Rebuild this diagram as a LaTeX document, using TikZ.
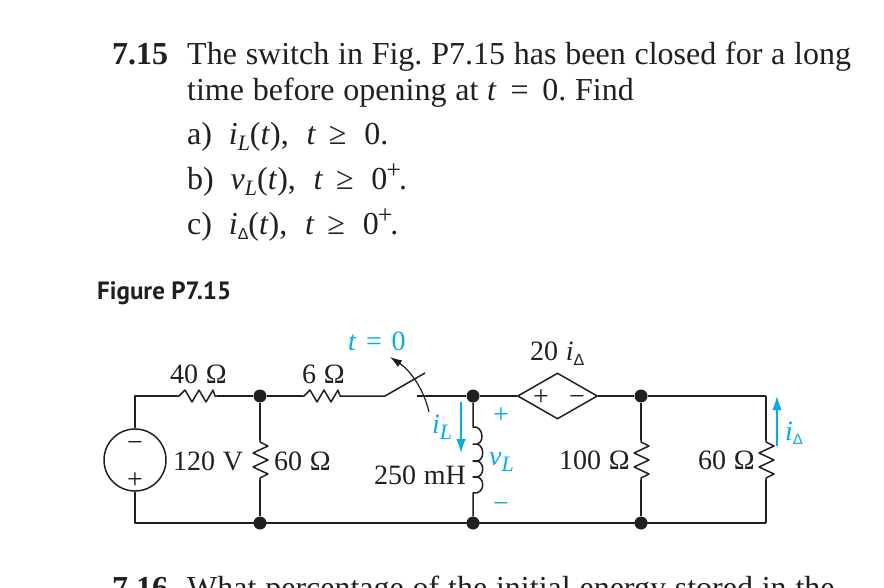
\documentclass[tikz,border=0pt]{standalone}
\usepackage{fontspec}
\setmainfont[WordSpace=1.1]{Liberation Serif}
\newfontfamily\figfont{PT Sans}
\newfontfamily\gfont{Liberation Sans}
\usetikzlibrary{arrows.meta,shapes.geometric}
\definecolor{ink}{HTML}{231F20}
\definecolor{cy}{HTML}{00AEEF}
\newcommand{\dls}{{\gfont\fontsize{16}{16}\selectfont\raisebox{-5pt}{Δ}}}
\newcommand{\subL}[1]{\raisebox{-6pt}{\fontsize{22}{22}\selectfont\itshape #1}}
\newcommand{\supP}{\raisebox{11pt}{\fontsize{26}{26}\selectfont\kern-1pt+\kern-2pt}}
\newcommand{\gp}[1]{\hspace{#1pt}}
\tikzset{
 x=1pt,y=-1pt,
 wire/.style={line width=1.5pt,draw=ink,line join=round},
 dot/.style={circle,fill=ink,inner sep=0pt,minimum size=13pt},
 txt/.style={anchor=base west,inner sep=0pt,text=ink,font=\fontsize{32}{32}\selectfont\frenchspacing},
 boldtxt/.style={txt,font=\fontsize{32}{32}\selectfont\bfseries},
 lab/.style={anchor=base west,inner sep=0pt,text=ink,font=\fontsize{28}{28}\selectfont},
 blab/.style={lab,text=cy},
 sign/.style={anchor=base,inner sep=0pt,text=ink,font=\fontsize{28}{28}\selectfont},
 arr/.style={-{Latex[length=14pt,width=9.5pt]},line width=1.3pt,draw=cy},
}
\newcommand{\hres}[2]{\draw[wire] (#1) -- ++(2,0) -- ++(6,-6) -- ++(7,12) -- ++(7,-12) -- ++(7,12) -- ++(7,-12) -- ++(2,6) -- ++(2,0) -- (#2);}
\newcommand{\vres}[2]{\draw[wire] (#1) -- ++(0,2) -- ++(8,4) -- ++(-15,7) -- ++(15,7) -- ++(-15,7) -- ++(15,7) -- ++(-8,4) -- (#2);}
\begin{document}
\begin{tikzpicture}
\useasboundingbox (0,0) rectangle (884,588);
\clip (0,0) rectangle (884,588);
\fill[white] (0,0) rectangle (884,588);
% text
\node[boldtxt] (n1) at (112,65) {7.15};
\node[txt] (t1) at (187,65) {The switch in Fig. P7.15 has been closed for a long};
\node[txt] (t2) at (187,101) {time before opening at \textit{t}\gp{5} = \gp{5}0. Find};
\node[txt] (a) at (187,145) {a)\gp{8} \textit{i}\subL{L}(\textit{t}),\gp{9} \textit{t}\gp{4} ≥\gp{9} 0.};
\node[txt] (b) at (187,190) {b)\gp{8} \textit{v}\subL{L}(\textit{t}),\gp{9} \textit{t}\gp{4} ≥\gp{9} 0\supP.};
\node[txt] (c) at (187,235) {c)\gp{8} \textit{i}\dls(\textit{t}),\gp{9} \textit{t}\gp{4} ≥\gp{9} 0\supP.};
\node[anchor=base west,inner sep=0pt,text=ink] (fig) at (97,300) {\figfont\bfseries\fontsize{25}{25}\selectfont Figure P7.15};
\node[boldtxt] (n2) at (112,598) {7.16};
\node[txt] (t3) at (187,598) {What percentage of the initial energy stored in the};
% circuit points
\coordinate (tl) at (135,396); \coordinate (bl) at (135,523);
\node[dot] (j1) at (260,396) {}; \node[dot] (j2) at (473,396) {}; \node[dot] (j3) at (641,396) {};
\node[dot] (b1) at (260,523) {}; \node[dot] (b2) at (473,523) {}; \node[dot] (b3) at (641,523) {};
\coordinate (tr) at (766,396); \coordinate (br) at (766,523);
\node[circle,draw=ink,line width=1.5pt,minimum size=62pt,inner sep=0pt] (src) at (135,460) {};
\node[diamond,draw=ink,line width=1.5pt,minimum width=80pt,minimum height=46pt,inner sep=0pt,aspect=1.72] (dep) at (557.5,396) {};
\node[sign] (dp) at (541,405) {+}; \node[sign] (dm) at (577,405) {−};
\node[sign] (sm) at (135,451) {−}; \node[sign] (sp) at (135,488) {+};
% wires
\draw[wire] (src.north) -- (tl) -- (177,396) coordinate (r1a);
\coordinate (r1b) at (217,396); \hres{r1a}{r1b}
\draw[wire] (r1b) -- (j1);
\coordinate (r2a) at (302,396); \coordinate (r2b) at (343,396);
\draw[wire] (j1) -- (r2a); \hres{r2a}{r2b}
\coordinate (sw) at (385,396); \coordinate (swe) at (425,373); \coordinate (con) at (417,396);
\draw[wire] (r2b) -- (sw) -- (swe);
\draw[wire] (con) -- (j2) -- (dep.west);
\draw[wire] (dep.east) -- (j3) -- (tr);
\draw[wire] (src.south) -- (bl) -- (br);
\coordinate (r3a) at (260,440); \coordinate (r3b) at (260,480);
\draw[wire] (j1) -- (r3a); \vres{r3a}{r3b} \draw[wire] (r3b) -- (b1);
\coordinate (r4a) at (641,440); \coordinate (r4b) at (641,480);
\draw[wire] (j3) -- (r4a); \vres{r4a}{r4b} \draw[wire] (r4b) -- (b3);
\coordinate (r5a) at (766,440); \coordinate (r5b) at (766,480);
\draw[wire] (tr) -- (r5a); \vres{r5a}{r5b} \draw[wire] (r5b) -- (br);
\coordinate (la) at (473,427); \coordinate (lb) at (473,493);
\draw[wire] (j2) -- (la)
  .. controls (484,425) and (486,447) .. (473,444)
  .. controls (486,441) and (486,465) .. (473,461)
  .. controls (486,458) and (486,480) .. (473,477)
  .. controls (486,474) and (486,495) .. (lb) -- (b2);
% switch arc
\coordinate (ars) at (429,412); \coordinate (are) at (390,357);
\draw[-{Latex[length=12pt,width=8pt]},line width=1.2pt,draw=ink] (ars) .. controls (424,390) and (411,371) .. (are);
% blue arrows
\coordinate (i1a) at (461,402); \coordinate (i1b) at (461,453);
\draw[arr] (i1a) -- (i1b);
\coordinate (i2a) at (777,446); \coordinate (i2b) at (777,396);
\draw[arr] (i2a) -- (i2b);
% labels
\node[blab] (sw0) at (348,350) {\textit{t}\gp{2} = \gp{2}0};
\node[lab] (l20) at (530,360) {20 \textit{i}\dls};
\node[lab] (l40) at (170,383) {40 Ω};
\node[lab] (l6) at (302,383) {6 Ω};
\node[lab] (l120) at (173,470) {120 V};
\node[lab] (l60) at (274,470) {60 Ω};
\node[lab] (l250) at (374,484) {250 mH};
\node[lab] (l100) at (559,469) {100 Ω};
\node[lab] (l60b) at (698,469) {60 Ω};
\node[blab] (il) at (432,433) {\textit{i}\subL{L}};
\node[blab] (vl) at (489,465) {\textit{v}\subL{L}};
\node[blab] (id) at (785,440) {\textit{i}{\gfont\fontsize{15}{15}\selectfont\raisebox{-4pt}{Δ}}};
\node[sign,text=cy] (vp) at (501,423) {+};
\node[sign,text=cy] (vm) at (501,512) {−};
\end{tikzpicture}
\end{document}
